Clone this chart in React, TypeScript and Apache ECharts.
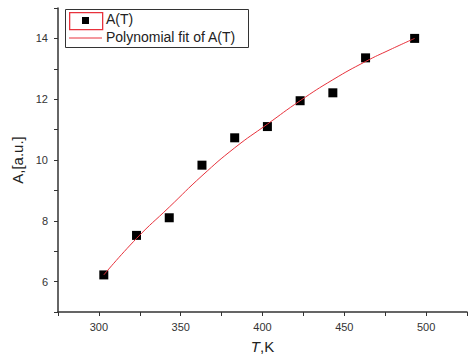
import React, { useEffect, useRef } from "react";
import * as echarts from "echarts";

const temps = [303, 323, 343, 363, 383, 403, 423, 443, 463, 493];
const amps = [6.22, 7.52, 8.1, 9.83, 10.73, 11.1, 11.95, 12.21, 13.36, 14.0];
const fitTemps = [303, 323, 343, 363, 383, 403, 423, 443, 463, 478, 493];
const fitAmps = [6.22, 7.42, 8.45, 9.48, 10.4, 11.18, 11.95, 12.64, 13.24, 13.63, 14.0];
const legendLabels = ["A(T)", "Polynomial fit of A(T)"];

const FONT = "'Liberation Sans', Arial, sans-serif";
const RED = "#e8323c";

export default function App() {
  const ref = useRef<HTMLDivElement>(null);
  useEffect(() => {
    if (!ref.current) return;
    const chart = echarts.init(ref.current, null, { renderer: "svg" });
    chart.setOption({
      animation: false,
      backgroundColor: "#ffffff",
      grid: { left: 58, right: 7, top: 8, bottom: 52 },
      xAxis: {
        type: "value",
        min: 275,
        max: 525,
        interval: 25,
        name: "{i|T},K",
        nameLocation: "middle",
        nameGap: 27,
        nameTextStyle: {
          fontFamily: FONT,
          fontSize: 15,
          color: "#222",
          rich: {
            i: { fontStyle: "italic", fontFamily: FONT, fontSize: 15, color: "#222" },
          },
        },
        axisLine: { show: true, onZero: false, lineStyle: { color: "#333", width: 1.5 } },
        axisTick: { show: true, length: 4, lineStyle: { color: "#333", width: 1 } },
        axisLabel: {
          margin: 9,
          fontFamily: FONT,
          fontSize: 11,
          color: "#333",
          formatter: (v: number) => (v % 50 === 0 ? String(v) : ""),
        },
        splitLine: { show: false },
      },
      yAxis: {
        type: "value",
        min: 5,
        max: 15,
        interval: 1,
        name: "A,[a.u.]",
        nameLocation: "middle",
        nameGap: 31,
        nameTextStyle: { fontFamily: FONT, fontSize: 15, color: "#222" },
        axisLine: { show: true, onZero: false, lineStyle: { color: "#333", width: 1.5 } },
        axisTick: { show: true, length: 4, lineStyle: { color: "#333", width: 1 } },
        axisLabel: {
          margin: 10,
          fontFamily: FONT,
          fontSize: 11,
          color: "#333",
          formatter: (v: number) => (v % 2 === 0 ? String(v) : ""),
        },
        splitLine: { show: false },
      },
      series: [
        {
          name: legendLabels[0],
          type: "scatter",
          symbol: "rect",
          symbolSize: 9,
          itemStyle: { color: "#000", opacity: 1 },
          data: temps.map((t, i) => [t, amps[i]]),
          z: 2,
        },
        {
          name: legendLabels[1],
          type: "line",
          smooth: true,
          showSymbol: false,
          symbol: "none",
          lineStyle: { color: RED, width: 1 },
          data: fitTemps.map((t, i) => [t, fitAmps[i]]),
          z: 3,
        },
      ],
      graphic: {
        elements: [
          {
            type: "rect",
            left: 65,
            top: 9,
            shape: { width: 183, height: 38 },
            style: { fill: "#fff", stroke: "#333", lineWidth: 1 },
            z: 10,
          },
          {
            type: "rect",
            left: 69,
            top: 12,
            shape: { width: 33, height: 17 },
            style: { fill: "#fff", stroke: RED, lineWidth: 1.3 },
            z: 11,
          },
          {
            type: "rect",
            left: 82,
            top: 17,
            shape: { width: 7, height: 7 },
            style: { fill: "#000" },
            z: 12,
          },
          {
            type: "line",
            shape: { x1: 69, y1: 38, x2: 102, y2: 38 },
            style: { stroke: RED, lineWidth: 1 },
            z: 11,
          },
          {
            type: "text",
            left: 106,
            top: 12,
            style: {
              text: legendLabels[0],
              fontFamily: FONT,
              fontSize: 14,
              fill: "#222",
            },
            z: 12,
          },
          {
            type: "text",
            left: 106,
            top: 30,
            style: {
              text: legendLabels[1],
              fontFamily: FONT,
              fontSize: 14,
              fill: "#222",
            },
            z: 12,
          },
        ],
      },
    });
    return () => chart.dispose();
  }, []);
  return (
    <div
      ref={ref}
      style={{ position: "absolute", left: 0, top: 0, width: 474, height: 364 }}
    />
  );
}
